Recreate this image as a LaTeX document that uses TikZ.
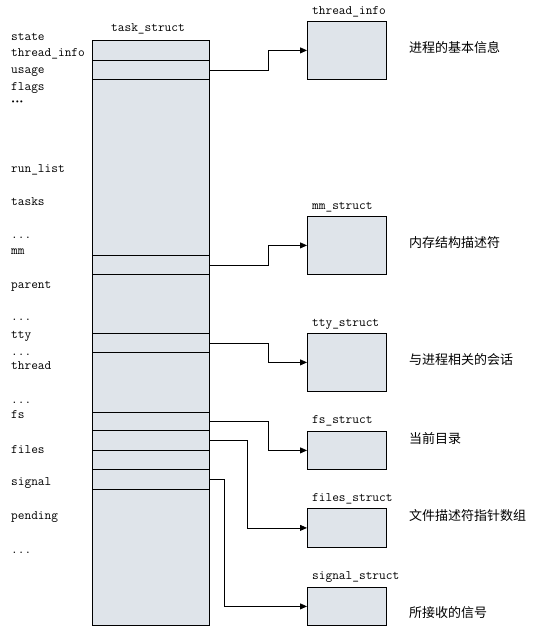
\documentclass[tikz,border=0pt]{standalone}
\usepackage{fontspec}
\newfontfamily\cjk{Noto Sans CJK SC}
\newfontfamily\djv{DejaVu Sans}
\usetikzlibrary{arrows.meta}
\definecolor{hatch}{RGB}{223,228,234}
\tikzset{
  fld/.style={font=\ttfamily\fontsize{13}{14}\selectfont, anchor=mid west, inner sep=0pt},
  ttl/.style={font=\ttfamily\fontsize{13}{14}\selectfont, anchor=mid west, inner sep=0pt},
  desc/.style={font=\cjk\fontsize{13}{14}\selectfont, anchor=mid west, inner sep=0pt},
  slot/.style={draw, line width=0.8pt, minimum width=117pt, inner sep=0pt, anchor=north west},
  sbox/.style={draw, line width=0.8pt, fill=hatch, minimum width=79pt, inner sep=0pt, anchor=north west},
  conn/.style={line width=0.8pt, -{Triangle[length=7pt,width=6pt]}},
}
\begin{document}
\begin{tikzpicture}[x=1pt,y=-1pt]
\useasboundingbox (0,0) rectangle (542,634);
% main task_struct box
\node[draw, line width=0.8pt, fill=hatch, minimum width=117pt, minimum height=585pt, inner sep=0pt, anchor=north west] (ts) at (92,40) {};
\node[ttl, anchor=mid] (tstitle) at (148,29) {task\_struct};
% slots
\node[slot, minimum height=19pt] (sti) at (92,60) {};
\node[slot, minimum height=19pt] (smm) at (92,255) {};
\node[slot, minimum height=19pt] (stty) at (92,333) {};
\node[slot, minimum height=18pt] (sfs) at (92,412) {};
\node[slot, minimum height=20pt] (sfiles) at (92,430) {};
\node[slot, minimum height=20pt] (ssig) at (92,469) {};
% field names
\node[fld] (f1) at (11,38) {state};
\node[fld] (f2) at (11,54) {thread\_info};
\node[fld] (f3) at (11,71) {usage};
\node[fld] (f4) at (11,88) {flags};
\node[fld, font=\djv\fontsize{7}{8}\selectfont] (f5) at (11,102) {•••};
\node[fld] (f6) at (11,170) {run\_list};
\node[fld] (f7) at (11,203) {tasks};
\node[fld] (f8) at (11,236) {...};
\node[fld] (f9) at (11,252) {mm};
\node[fld] (f10) at (11,286) {parent};
\node[fld] (f11) at (11,318) {...};
\node[fld] (f12) at (11,336) {tty};
\node[fld] (f13) at (11,353) {...};
\node[fld] (f14) at (11,367) {thread};
\node[fld] (f15) at (11,401) {...};
\node[fld] (f16) at (11,416) {fs};
\node[fld] (f17) at (11,451) {files};
\node[fld] (f18) at (11,483) {signal};
\node[fld] (f19) at (11,517) {pending};
\node[fld] (f20) at (11,551) {...};
% target structs
\node[sbox, minimum height=58pt] (bti) at (307,21) {};
\node[sbox, minimum height=58pt] (bmm) at (307,216) {};
\node[sbox, minimum height=58pt] (btty) at (307,333) {};
\node[sbox, minimum height=38pt] (bfs) at (307,431) {};
\node[sbox, minimum height=39pt] (bfiles) at (307,508) {};
\node[sbox, minimum height=38pt] (bsig) at (307,587) {};
% struct titles
\node[ttl] (tti) at (312,12) {thread\_info};
\node[ttl] (tmm) at (312,207) {mm\_struct};
\node[ttl] (ttty) at (312,324) {tty\_struct};
\node[ttl] (tfs) at (312,421) {fs\_struct};
\node[ttl] (tfiles) at (312,499) {files\_struct};
\node[ttl] (tsig) at (312,577) {signal\_struct};
% descriptions
\node[desc] (dti) at (409,50) {进程的基本信息};
\node[desc] (dmm) at (409,245) {内存结构描述符};
\node[desc] (dtty) at (409,362) {与进程相关的会话};
\node[desc] (dfs) at (409,441) {当前目录};
\node[desc] (dfiles) at (409,518) {文件描述符指针数组};
\node[desc] (dsig) at (409,615) {所接收的信号};
% bend columns
\coordinate (xa) at (268,0);
\coordinate (xb) at (247,0);
\coordinate (xc) at (224,0);
% connectors
\draw[conn] (sti.east) -- (sti.east -| xa) |- (bti.west);
\draw[conn] (smm.east) -- (smm.east -| xa) |- (bmm.west);
\draw[conn] (stty.east) -- (stty.east -| xa) |- (btty.west);
\draw[conn] (sfs.east) -- (sfs.east -| xa) |- (bfs.west);
\draw[conn] (sfiles.east) -- (sfiles.east -| xb) |- (bfiles.west);
\draw[conn] (ssig.east) -- (ssig.east -| xc) |- (bsig.west);
\end{tikzpicture}
\end{document}
